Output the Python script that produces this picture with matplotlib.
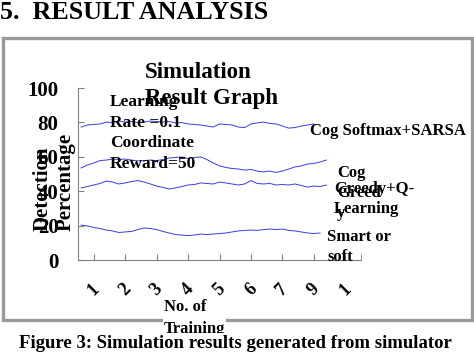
import numpy as np
import matplotlib.pyplot as plt
from matplotlib.patches import Rectangle

plt.rcParams['font.family'] = 'Liberation Serif'
plt.rcParams['font.weight'] = 'bold'

W, H = 474, 354

# category labels on the x axis (as printed, truncated)
train_labels = ['1', '2', '3', '4', '5', '6', '7', '9', '1']
y_ticks = [0, 20, 40, 60, 80, 100]

# detection percentage, one value per sample step
softmax_sarsa = [77.3, 78.5, 78.8, 79.1, 80.2, 79.9, 80.8, 80.2, 80.5, 79.9,
                 80.2, 80.8, 80.5, 80.2, 80.5, 79.7, 79.9, 79.1, 78.8, 78.5,
                 77.9, 77.3, 79.1, 78.8, 78.5, 77.3, 77.0, 79.1, 79.7, 80.2,
                 79.4, 79.1, 77.9, 76.7, 77.0, 77.9, 78.5, 79.1]
cog_greedy = [53.5, 55.2, 56.4, 57.8, 58.1, 58.7, 58.4, 58.7, 58.1, 57.6,
              57.8, 58.1, 57.8, 58.4, 59.3, 59.6, 59.9, 59.0, 59.6, 59.9,
              58.4, 56.4, 54.7, 53.8, 53.2, 52.9, 52.3, 52.6, 51.7, 51.2,
              51.7, 50.9, 51.7, 52.9, 54.1, 54.7, 55.8, 56.1, 57.0, 58.1]
greedy_q = [41.9, 42.7, 43.6, 44.5, 45.9, 45.3, 44.2, 44.8, 45.6, 46.2,
            45.3, 44.2, 43.0, 42.2, 41.3, 41.9, 42.7, 43.6, 43.9, 44.8,
            44.5, 44.2, 45.3, 44.8, 44.2, 43.6, 44.2, 46.2, 44.5, 44.2,
            44.5, 43.6, 43.9, 43.6, 44.2, 43.3, 42.4, 43.0, 42.7, 43.6]
smart_soft = [20.3, 19.8, 18.9, 18.3, 17.4, 16.9, 16.0, 16.3, 16.6, 17.7,
              18.6, 18.3, 17.7, 16.6, 15.7, 14.8, 14.5, 14.2, 14.5, 15.1,
              14.8, 15.1, 15.4, 15.7, 16.3, 16.9, 17.2, 17.4, 17.2, 17.7,
              18.0, 17.7, 18.0, 17.2, 16.9, 16.3, 15.7, 15.4, 15.7]


def fx(px):
    return px / W


def fy(py):
    return 1 - py / H


fig = plt.figure(figsize=(W / 100, H / 100), dpi=100)
fig.patches.append(Rectangle((fx(3), fy(320)), fx(469), 282 / H,
                             transform=fig.transFigure, fill=False,
                             ec='#9a9a9a', lw=2.4, zorder=1))

ax = fig.add_axes([fx(78), fy(260), (361 - 78) / W, (260 - 88) / H])
blue = '#3c3cdc'
for vals in (softmax_sarsa, cog_greedy, greedy_q, smart_soft):
    steps = 0.1 + 0.2 * np.arange(len(vals))
    ax.plot(steps, vals, color=blue, lw=0.7)

ax.set_xlim(0, 9)
ax.set_ylim(0, 100)
ax.set_xticks(np.arange(len(train_labels)) + 0.5)
ax.set_xticklabels(train_labels, rotation=45, fontsize=13)
ax.set_xticks([9], minor=True)
ax.set_yticks(y_ticks)
ax.set_yticklabels([str(v) for v in y_ticks], fontsize=15)
ax.tick_params(axis='x', which='both', direction='in', length=4,
               color='#808080', pad=15)
ax.tick_params(axis='y', direction='in', length=4, color='#808080', pad=14)
for s in ('top', 'right'):
    ax.spines[s].set_visible(False)
for s in ('left', 'bottom'):
    ax.spines[s].set_color('#808080')

fig.text(fx(0), fy(19), '5.  RESULT ANALYSIS', size=18.7, va='baseline')
fig.text(fx(145), fy(62.5), 'Simulation\nResult Graph', size=16.5,
         va='top', ha='left', linespacing=1.28)
fig.text(fx(110), fy(94.5), 'Learning\nRate =0.1\nCoordinate\nReward=50',
         size=12.5, va='top', ha='left', linespacing=1.37)
fig.text(fx(54), fy(181.5), 'Detection\nPercentage', size=15, rotation=90,
         ha='center', va='center', multialignment='left', linespacing=1.2)

fig.text(fx(310), fy(135), 'Cog Softmax+SARSA', size=12, va='baseline')
fig.text(fx(337), fy(165), 'Cog\nGreed\ny', size=12, va='top',
         linespacing=1.35)
fig.text(fx(334), fy(181), 'Greedy+Q-\nLearning', size=12, va='top',
         linespacing=1.35)
fig.text(fx(327), fy(229), 'Smart or\nsoft', size=12, va='top',
         linespacing=1.35)
fig.text(fx(164), fy(299), 'No. of\nTraining', size=12, va='top',
         linespacing=1.5,
         bbox=dict(fc='white', ec='none', pad=0.5), zorder=3)

fig.patches.append(Rectangle((0, 0), 1, fy(333), transform=fig.transFigure,
                             fc='white', ec='none', zorder=3.5))
fig.text(fx(19), fy(347.5), 'Figure 3: Simulation results generated from simulator',
         size=13.5, va='baseline', zorder=4)

fig.savefig('out.png', dpi=100)
